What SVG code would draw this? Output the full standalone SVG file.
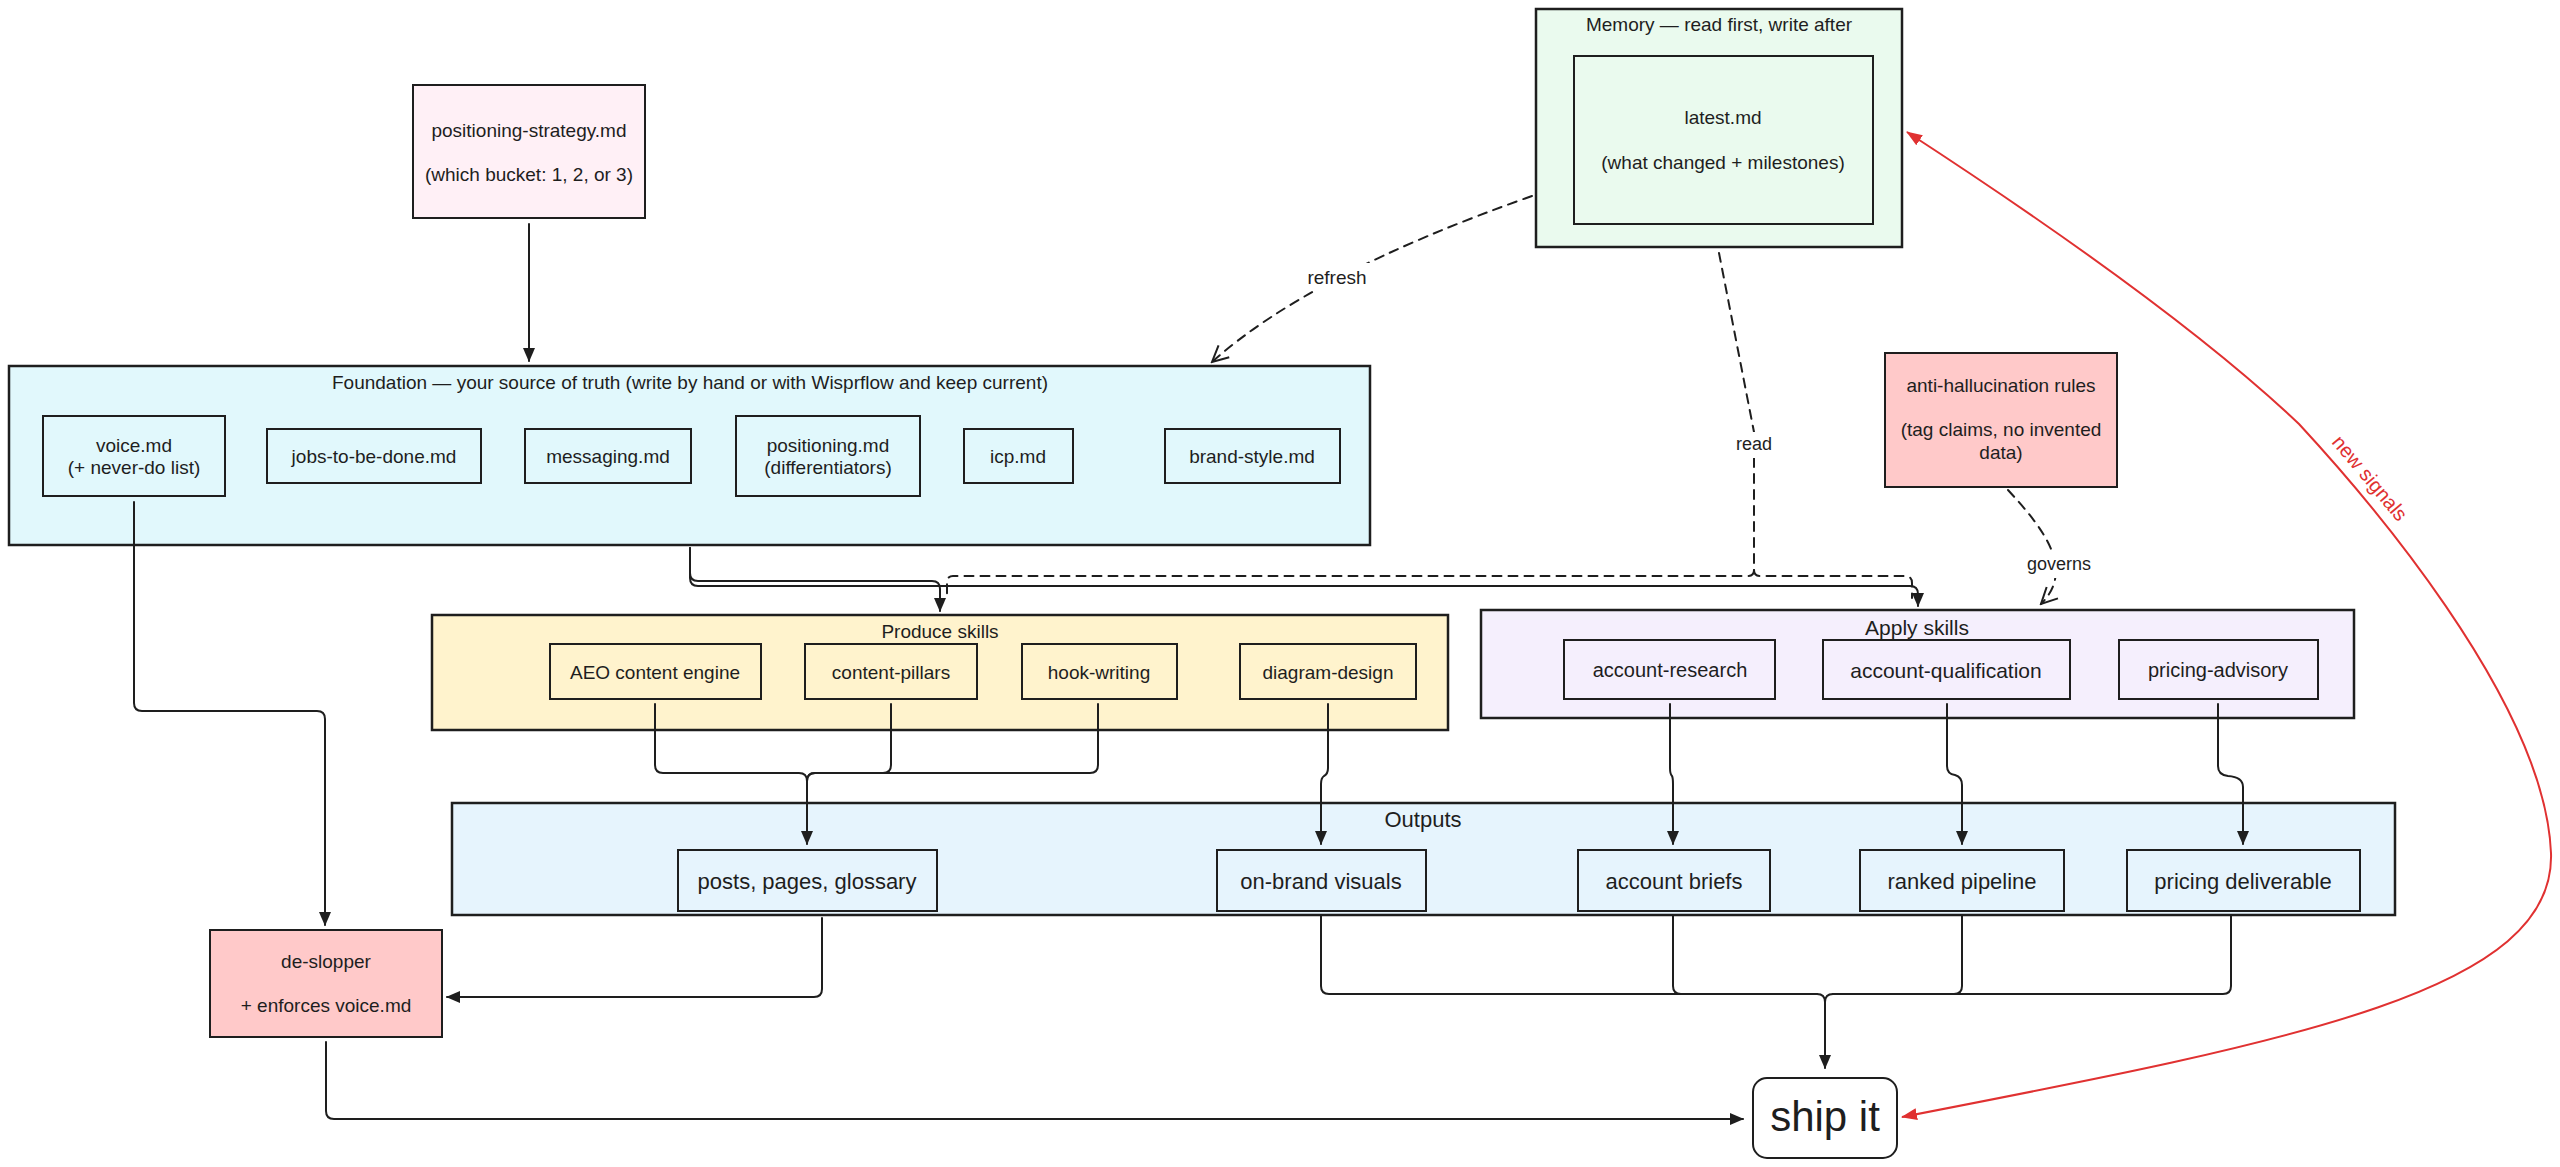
<svg xmlns="http://www.w3.org/2000/svg" width="2560" height="1167" viewBox="0 0 2560 1167">
  <defs>
    <style>
      .bx { stroke: #1e1e1e; stroke-width: 2; }
      .ct { stroke: #1e1e1e; stroke-width: 2.5; }
      .t { font-family: "Liberation Sans", Arial, sans-serif; font-size: 19px; fill: #1e1e1e; text-anchor: middle; dominant-baseline: central; }
      .t20 { font-size: 20px; }
      .t21 { font-size: 21px; }
      .t22 { font-size: 22px; }
      .lbl { font-size: 18px; }
      .big { font-size: 42px; }
      .red { fill: #e03131; }
      .ln { fill: none; stroke: #1e1e1e; stroke-width: 2; stroke-linejoin: round; stroke-linecap: round; }
      .dash { stroke-dasharray: 9 7; }
      .rl { fill: none; stroke: #e03131; stroke-width: 2; }
      .pink { fill: #fff0f6; }
      .found { fill: #e1f8fc; }
      .mem { fill: #eafaee; }
      .prod { fill: #fff3cd; }
      .apply { fill: #f5effd; }
      .out { fill: #e6f4fd; }
      .alert { fill: #ffc9c9; }
    </style>
    <marker id="arr" viewBox="0 0 14 14" refX="13" refY="7" markerWidth="14" markerHeight="14" markerUnits="userSpaceOnUse" orient="auto">
      <path d="M0,1 L14,7 L0,13 z" fill="#1e1e1e"/>
    </marker>
    <marker id="open" viewBox="0 0 20 20" refX="18" refY="10" markerWidth="20" markerHeight="20" markerUnits="userSpaceOnUse" orient="auto">
      <path d="M2,2 L18,10 L2,18" fill="none" stroke="#1e1e1e" stroke-width="2"/>
    </marker>
    <marker id="rarr" viewBox="0 0 16 14" refX="15" refY="7" markerWidth="16" markerHeight="14" markerUnits="userSpaceOnUse" orient="auto-start-reverse">
      <path d="M0,1 L16,7 L0,13 z" fill="#e03131"/>
    </marker>
  </defs>

  <rect width="2560" height="1167" fill="#ffffff"/>

  <!-- Containers -->
  <g id="foundation">
    <rect class="ct found" x="9" y="366" width="1361" height="179"/>
    <text class="t" x="690" y="382">Foundation — your source of truth (write by hand or with Wisprflow and keep current)</text>
  </g>
  <g id="memory">
    <rect class="ct mem" x="1536" y="9" width="366" height="238"/>
    <text class="t" x="1719" y="24">Memory — read first, write after</text>
  </g>
  <g id="produce-skills">
    <rect class="ct prod" x="432" y="615" width="1016" height="115"/>
    <text class="t" x="940" y="631">Produce skills</text>
  </g>
  <g id="apply-skills">
    <rect class="ct apply" x="1481" y="610" width="873" height="108"/>
    <text class="t t21" x="1917" y="627">Apply skills</text>
  </g>
  <g id="outputs">
    <rect class="ct out" x="452" y="803" width="1943" height="112"/>
    <text class="t t22" x="1423" y="819">Outputs</text>
  </g>

  <!-- Standalone nodes -->
  <g id="positioning-strategy">
    <rect class="bx pink" x="413" y="85" width="232" height="133"/>
    <text class="t" x="529" y="130">positioning-strategy.md</text>
    <text class="t" x="529" y="174">(which bucket: 1, 2, or 3)</text>
  </g>
  <g id="anti-hallucination">
    <rect class="bx alert" x="1885" y="353" width="232" height="134"/>
    <text class="t" x="2001" y="385">anti-hallucination rules</text>
    <text class="t" x="2001" y="429">(tag claims, no invented</text>
    <text class="t" x="2001" y="452">data)</text>
  </g>
  <g id="de-slopper">
    <rect class="bx alert" x="210" y="930" width="232" height="107"/>
    <text class="t" x="326" y="961">de-slopper</text>
    <text class="t" x="326" y="1005">+ enforces voice.md</text>
  </g>
  <g id="ship-it">
    <rect class="bx" x="1753" y="1078" width="144" height="80" rx="14" fill="#ffffff"/>
    <text class="t big" x="1825" y="1116">ship it</text>
  </g>

  <!-- Foundation children -->
  <g id="voice">
    <rect class="bx found" x="43" y="416" width="182" height="80"/>
    <text class="t" x="134" y="445">voice.md</text>
    <text class="t" x="134" y="467">(+ never-do list)</text>
  </g>
  <g id="jobs-to-be-done">
    <rect class="bx found" x="267" y="429" width="214" height="54"/>
    <text class="t" x="374" y="456">jobs-to-be-done.md</text>
  </g>
  <g id="messaging">
    <rect class="bx found" x="525" y="429" width="166" height="54"/>
    <text class="t" x="608" y="456">messaging.md</text>
  </g>
  <g id="positioning">
    <rect class="bx found" x="736" y="416" width="184" height="80"/>
    <text class="t" x="828" y="445">positioning.md</text>
    <text class="t" x="828" y="467">(differentiators)</text>
  </g>
  <g id="icp">
    <rect class="bx found" x="964" y="429" width="109" height="54"/>
    <text class="t" x="1018" y="456">icp.md</text>
  </g>
  <g id="brand-style">
    <rect class="bx found" x="1165" y="429" width="175" height="54"/>
    <text class="t" x="1252" y="456">brand-style.md</text>
  </g>

  <!-- Memory child -->
  <g id="latest">
    <rect class="bx mem" x="1574" y="56" width="299" height="168"/>
    <text class="t" x="1723" y="117">latest.md</text>
    <text class="t" x="1723" y="162">(what changed + milestones)</text>
  </g>

  <!-- Produce children -->
  <g id="aeo-content-engine">
    <rect class="bx prod" x="550" y="644" width="211" height="55"/>
    <text class="t" x="655" y="672">AEO content engine</text>
  </g>
  <g id="content-pillars">
    <rect class="bx prod" x="805" y="644" width="172" height="55"/>
    <text class="t" x="891" y="672">content-pillars</text>
  </g>
  <g id="hook-writing">
    <rect class="bx prod" x="1022" y="644" width="155" height="55"/>
    <text class="t" x="1099" y="672">hook-writing</text>
  </g>
  <g id="diagram-design">
    <rect class="bx prod" x="1240" y="644" width="176" height="55"/>
    <text class="t" x="1328" y="672">diagram-design</text>
  </g>

  <!-- Apply children -->
  <g id="account-research">
    <rect class="bx apply" x="1564" y="640" width="211" height="59"/>
    <text class="t t20" x="1670" y="670">account-research</text>
  </g>
  <g id="account-qualification">
    <rect class="bx apply" x="1823" y="640" width="247" height="59"/>
    <text class="t t21" x="1946" y="670">account-qualification</text>
  </g>
  <g id="pricing-advisory">
    <rect class="bx apply" x="2119" y="640" width="199" height="59"/>
    <text class="t t20" x="2218" y="670">pricing-advisory</text>
  </g>

  <!-- Outputs children -->
  <g id="posts-pages-glossary">
    <rect class="bx out" x="678" y="850" width="259" height="61"/>
    <text class="t t22" x="807" y="881">posts, pages, glossary</text>
  </g>
  <g id="on-brand-visuals">
    <rect class="bx out" x="1217" y="850" width="209" height="61"/>
    <text class="t t22" x="1321" y="881">on-brand visuals</text>
  </g>
  <g id="account-briefs">
    <rect class="bx out" x="1578" y="850" width="192" height="61"/>
    <text class="t t22" x="1674" y="881">account briefs</text>
  </g>
  <g id="ranked-pipeline">
    <rect class="bx out" x="1860" y="850" width="204" height="61"/>
    <text class="t t22" x="1962" y="881">ranked pipeline</text>
  </g>
  <g id="pricing-deliverable">
    <rect class="bx out" x="2127" y="850" width="233" height="61"/>
    <text class="t t22" x="2243" y="881">pricing deliverable</text>
  </g>

  <!-- Connectors -->
  <g id="connectors">
    <!-- positioning-strategy -> foundation -->
    <path class="ln" d="M529,224 V361" marker-end="url(#arr)"/>

    <!-- foundation -> produce / apply -->
    <path class="ln" d="M690,548 V573 Q690,581 698,581 H932 Q940,581 940,589 V611" marker-end="url(#arr)"/>
    <path class="ln" d="M690,548 V578 Q690,586 698,586 H1910 Q1918,586 1918,594 V606" marker-end="url(#arr)"/>

    <!-- memory read (dashed) -->
    <path class="ln dash" d="M1719,253 L1754,432"/>
    <path class="ln dash" d="M1754,458 V570 Q1754,576 1748,576 H953 Q947,576 947,583 V600"/>
    <path class="ln dash" d="M1754,570 Q1754,576 1760,576 H1905 Q1912,576 1912,583 V598"/>
    <rect x="1733" y="432" width="40" height="26" fill="#ffffff"/>
    <text class="t lbl" x="1754" y="444">read</text>

    <!-- refresh (dashed) -->
    <path class="ln dash" d="M1532,196 Q1310,274 1212,362" marker-end="url(#open)"/>
    <rect x="1302" y="263" width="70" height="28" fill="#ffffff"/>
    <text class="t" x="1337" y="277">refresh</text>

    <!-- governs (dashed) -->
    <path class="ln dash" d="M2008,490 C2045,530 2075,570 2041,604" marker-end="url(#open)"/>
    <rect x="2023" y="552" width="72" height="26" fill="#ffffff"/>
    <text class="t lbl" x="2059" y="564">governs</text>

    <!-- produce skills -> posts -->
    <path class="ln" d="M655,704 V765 Q655,773 663,773 H799 Q807,773 807,781 V844" marker-end="url(#arr)"/>
    <path class="ln" d="M891,704 V765 Q891,773 883,773 H815 Q807,773 807,781"/>
    <path class="ln" d="M1098,704 V765 Q1098,773 1090,773 H815 Q807,773 807,781"/>

    <!-- diagram-design -> on-brand visuals -->
    <path class="ln" d="M1328,704 V768 Q1328,774 1324,776 Q1321,778 1321,784 V844" marker-end="url(#arr)"/>
    <!-- apply -> outputs -->
    <path class="ln" d="M1670,704 V768 Q1670,774 1672,776 Q1673,778 1673,784 V844" marker-end="url(#arr)"/>
    <path class="ln" d="M1947,704 V766 Q1947,774 1955,775 Q1962,777 1962,785 V844" marker-end="url(#arr)"/>
    <path class="ln" d="M2218,704 V766 Q2218,775 2228,776 Q2243,777 2243,787 V844" marker-end="url(#arr)"/>

    <!-- outputs -> ship it -->
    <path class="ln" d="M1321,916 V986 Q1321,994 1329,994 H1817 Q1825,994 1825,1002 V1068" marker-end="url(#arr)"/>
    <path class="ln" d="M1673,916 V986 Q1673,994 1681,994 H1817"/>
    <path class="ln" d="M1962,916 V986 Q1962,994 1954,994 H1833 Q1825,994 1825,1002"/>
    <path class="ln" d="M2231,916 V986 Q2231,994 2223,994 H1833"/>

    <!-- voice -> de-slopper -->
    <path class="ln" d="M134,502 V703 Q134,711 142,711 H317 Q325,711 325,719 V925" marker-end="url(#arr)"/>
    <!-- posts -> de-slopper -->
    <path class="ln" d="M822,918 V989 Q822,997 814,997 H447" marker-end="url(#arr)"/>
    <!-- de-slopper -> ship it -->
    <path class="ln" d="M326,1042 V1111 Q326,1119 334,1119 H1743" marker-end="url(#arr)"/>

    <!-- new signals (red, both ends) -->
    <path class="rl" d="M1907,132 C2050,225 2200,330 2299,424 C2360,490 2545,700 2551,853 C2556,990 2300,1040 1902,1117" marker-start="url(#rarr)" marker-end="url(#rarr)"/>
    <text class="t t20 red" x="2370" y="478" transform="rotate(50 2370 478)">new signals</text>
  </g>
</svg>
